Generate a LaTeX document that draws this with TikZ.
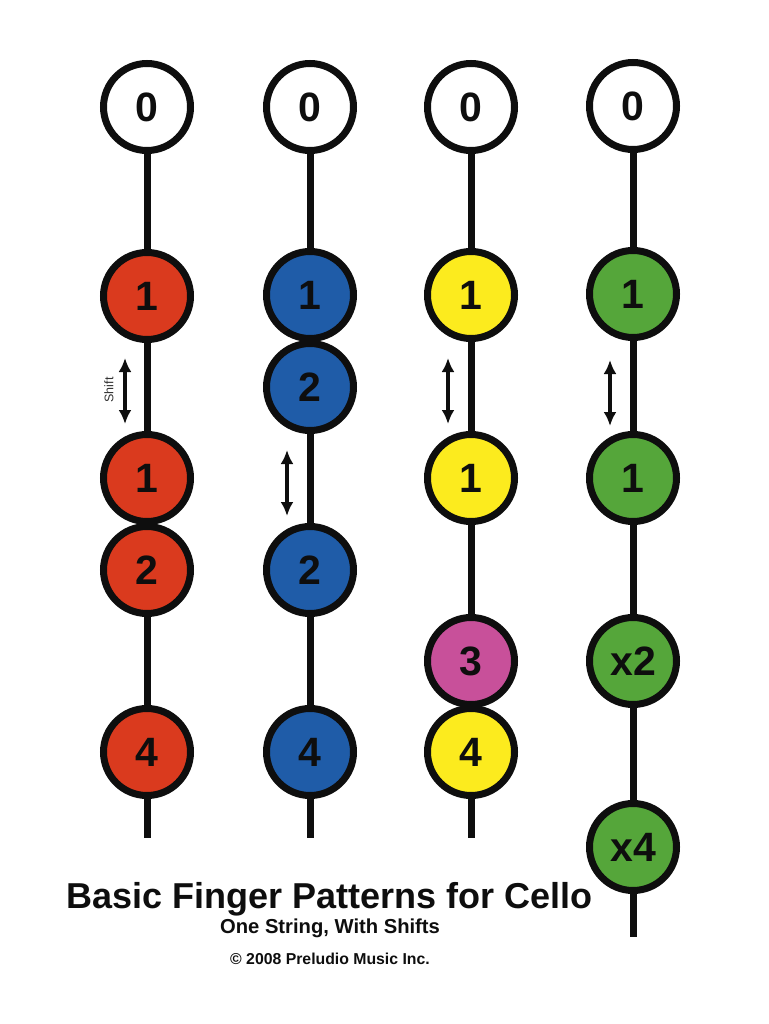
\documentclass[tikz,border=0pt]{standalone}
\usepackage{fontspec}
\setmainfont{Liberation Sans}
\usetikzlibrary{arrows.meta}
\definecolor{cred}{HTML}{DA3A1E}
\definecolor{cblue}{HTML}{1F5CA8}
\definecolor{cyel}{HTML}{FCEB1E}
\definecolor{cmag}{HTML}{C8509A}
\definecolor{cgrn}{HTML}{55A63A}
\definecolor{ink}{HTML}{0E0E0E}
\tikzset{
 x=1pt,y=-1pt,
 fing/.style={circle,draw=ink,line width=7pt,minimum size=87pt,inner sep=0pt,text=ink,font=\bfseries\fontsize{41}{41}\selectfont},
 str/.style={draw=ink,line width=7pt},
 shiftarrow/.style={draw=ink,line width=3.4pt,{Latex[length=14pt,width=13pt]}-{Latex[length=14pt,width=13pt]}},
 caption/.style={anchor=base,inner sep=0pt,text=ink},
}
\begin{document}
\begin{tikzpicture}
\useasboundingbox (0,0) rectangle (768,1024);
\fill[white] (0,0) rectangle (768,1024);
% column 1
\node[fing,fill=white] (a0) at (147,107) {0};
\node[fing,fill=cred] (a1) at (147,296) {1};
\node[fing,fill=cred] (a2) at (147,478) {1};
\node[fing,fill=cred] (a3) at (147,570) {2};
\node[fing,fill=cred] (a4) at (147,752) {4};
\coordinate (ae) at (147,838);
\draw[str] (a0)--(a1); \draw[str] (a1)--(a2); \draw[str] (a3)--(a4); \draw[str] (a4)--(ae);
% column 2
\node[fing,fill=white] (b0) at (310,107) {0};
\node[fing,fill=cblue] (b1) at (310,295) {1};
\node[fing,fill=cblue] (b2) at (310,387) {2};
\node[fing,fill=cblue] (b3) at (310,570) {2};
\node[fing,fill=cblue] (b4) at (310,752) {4};
\coordinate (be) at (310,838);
\draw[str] (b0)--(b1); \draw[str] (b2)--(b3); \draw[str] (b3)--(b4); \draw[str] (b4)--(be);
% column 3
\node[fing,fill=white] (c0) at (471,107) {0};
\node[fing,fill=cyel] (c1) at (471,295) {1};
\node[fing,fill=cyel] (c2) at (471,478) {1};
\node[fing,fill=cmag] (c3) at (471,661) {3};
\node[fing,fill=cyel] (c4) at (471,752) {4};
\coordinate (ce) at (471,838);
\draw[str] (c0)--(c1); \draw[str] (c1)--(c2); \draw[str] (c2)--(c3); \draw[str] (c4)--(ce);
% column 4
\node[fing,fill=white] (d0) at (633,106) {0};
\node[fing,fill=cgrn] (d1) at (633,294) {1};
\node[fing,fill=cgrn] (d2) at (633,478) {1};
\node[fing,fill=cgrn] (d3) at (633,661) {x2};
\node[fing,fill=cgrn] (d4) at (633,847) {x4};
\coordinate (de) at (633,937);
\draw[str] (d0)--(d1); \draw[str] (d1)--(d2); \draw[str] (d2)--(d3); \draw[str] (d3)--(d4); \draw[str] (d4)--(de);
% shift arrows
\coordinate (s1a) at (125,358); \coordinate (s1b) at (125,424);
\coordinate (s2a) at (287,450); \coordinate (s2b) at (287,516);
\coordinate (s3a) at (448,358); \coordinate (s3b) at (448,424);
\coordinate (s4a) at (610,360); \coordinate (s4b) at (610,426);
\draw[shiftarrow] (s1a)--(s1b);
\draw[shiftarrow] (s2a)--(s2b);
\draw[shiftarrow] (s3a)--(s3b);
\draw[shiftarrow] (s4a)--(s4b);
\node[rotate=90,font=\fontsize{12.5}{13}\selectfont,text=ink!85,inner sep=0pt] (shiftlabel) at (109,390) {Shift};
% text
\node[caption,font=\bfseries\fontsize{36}{37}\selectfont] (title) at (329.5,908) {Basic Finger Patterns for Cello};
\node[caption,font=\bfseries\fontsize{20.2}{21}\selectfont] (sub) at (330,933) {One String, With Shifts};
\node[caption,font=\bfseries\fontsize{15.8}{16}\selectfont] (copy) at (330,964) {© 2008 Preludio Music Inc.};
\end{tikzpicture}
\end{document}
